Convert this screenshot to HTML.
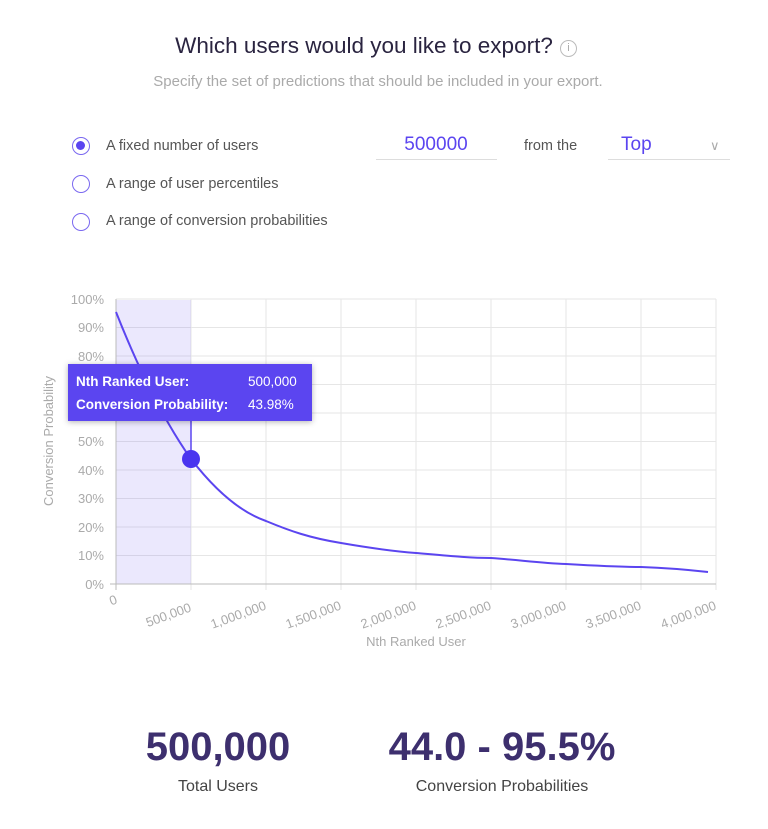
<!DOCTYPE html>
<html><head><style>
body{margin:0;width:768px;height:829px;background:#fff;font-family:"Liberation Sans",sans-serif;position:relative;overflow:hidden}
.a{position:absolute;white-space:nowrap}
.r{position:absolute;width:18px;height:18px;border:1.5px solid #7a68f0;border-radius:50%;box-sizing:border-box}
.lbl{font-size:14.5px;color:#555}
</style></head><body>
<div class="a" style="left:0;width:728px;top:33px;text-align:center;font-size:22.5px;color:#2a2440">Which users would you like to export?</div>
<div class="a" style="left:560px;top:40px;width:15px;height:15px;border:1px solid #bbb;border-radius:50%;font-size:11px;line-height:15px;text-align:center;color:#aaa">i</div>
<div class="a" style="left:0;width:756px;top:73px;text-align:center;font-size:15px;color:#aaa">Specify the set of predictions that should be included in your export.</div>
<div class="r" style="left:72px;top:137px"><div style="position:absolute;left:3px;top:3px;width:9px;height:9px;border-radius:50%;background:#5b45f0"></div></div>
<div class="r" style="left:72px;top:175px"></div>
<div class="r" style="left:72px;top:213px"></div>
<div class="a lbl" style="left:106px;top:138px">A fixed number of users</div>
<div class="a lbl" style="left:106px;top:176px">A range of user percentiles</div>
<div class="a lbl" style="left:106px;top:213px">A range of conversion probabilities</div>
<div class="a" style="left:376px;top:134px;width:120px;text-align:center;font-size:19px;color:#5b45f0">500000</div>
<div class="a" style="left:376px;top:159px;width:121px;height:1px;background:#ddd"></div>
<div class="a lbl" style="left:524px;top:138px">from the</div>
<div class="a" style="left:621px;top:134px;font-size:19px;color:#5b45f0">Top</div>
<div class="a" style="left:710px;top:138px;font-size:13px;color:#aaa">&#8744;</div>
<div class="a" style="left:608px;top:159px;width:122px;height:1px;background:#ddd"></div>

<svg class="a" style="left:0;top:0" width="768" height="829" font-family="Liberation Sans, sans-serif">
<g stroke="#e6e6e6" stroke-width="1">
<line x1="116" y1="299" x2="716" y2="299"/><line x1="116" y1="327.5" x2="716" y2="327.5"/><line x1="116" y1="356" x2="716" y2="356"/><line x1="116" y1="384.5" x2="716" y2="384.5"/><line x1="116" y1="413" x2="716" y2="413"/><line x1="116" y1="441.5" x2="716" y2="441.5"/><line x1="116" y1="470" x2="716" y2="470"/><line x1="116" y1="498.5" x2="716" y2="498.5"/><line x1="116" y1="527" x2="716" y2="527"/><line x1="116" y1="555.5" x2="716" y2="555.5"/>
<line x1="191" y1="299" x2="191" y2="590"/><line x1="266" y1="299" x2="266" y2="590"/><line x1="341" y1="299" x2="341" y2="590"/><line x1="416" y1="299" x2="416" y2="590"/><line x1="491" y1="299" x2="491" y2="590"/><line x1="566" y1="299" x2="566" y2="590"/><line x1="641" y1="299" x2="641" y2="590"/><line x1="716" y1="299" x2="716" y2="590"/>
</g>
<rect x="116" y="300" width="75" height="284" fill="#5b45f0" fill-opacity="0.12"/>
<line x1="116" y1="299" x2="116" y2="590" stroke="#bbb"/>
<line x1="110" y1="584" x2="716" y2="584" stroke="#bbb"/>
<g font-size="13" fill="#aaa" text-anchor="end">
<text x="104" y="304">100%</text><text x="104" y="332">90%</text><text x="104" y="361">80%</text><text x="104" y="389">70%</text><text x="104" y="418">60%</text><text x="104" y="446">50%</text><text x="104" y="475">40%</text><text x="104" y="503">30%</text><text x="104" y="532">20%</text><text x="104" y="560">10%</text><text x="104" y="589">0%</text>
</g>
<g font-size="13" fill="#aaa" text-anchor="end">
<text transform="translate(118,603) rotate(-20)">0</text>
<text transform="translate(192,611) rotate(-20)">500,000</text>
<text transform="translate(267,609) rotate(-20)">1,000,000</text>
<text transform="translate(342,609) rotate(-20)">1,500,000</text>
<text transform="translate(417,609) rotate(-20)">2,000,000</text>
<text transform="translate(492,609) rotate(-20)">2,500,000</text>
<text transform="translate(567,609) rotate(-20)">3,000,000</text>
<text transform="translate(642,609) rotate(-20)">3,500,000</text>
<text transform="translate(717,609) rotate(-20)">4,000,000</text>
</g>
<text x="416" y="646" font-size="13" fill="#aaa" text-anchor="middle">Nth Ranked User</text>
<text transform="translate(53,441) rotate(-90)" font-size="13" fill="#aaa" text-anchor="middle">Conversion Probability</text>
<path d="M116,312 C135,360 160,415 191,459 C215,490 240,512 266,521 C290,531 310,538 341,543 C370,548 390,551 416,553 C450,556 470,558 491,558 C520,560 540,563 566,564 C600,566 620,567 641,567 C670,568 690,570 708,572" fill="none" stroke="#5b45f0" stroke-width="2"/>
<line x1="191" y1="390" x2="191" y2="459" stroke="#5b45f0" stroke-width="1.5"/>
<circle cx="191" cy="459" r="9" fill="#4a35ef"/>
<rect x="68" y="364" width="244" height="57" fill="#5b45f0" style="filter:drop-shadow(0 1px 3px rgba(0,0,0,.3))"/>
<g font-size="13.5" fill="#fff">
<text x="76" y="386" font-weight="bold">Nth Ranked User:</text><text x="248" y="386">500,000</text>
<text x="76" y="409" font-weight="bold">Conversion Probability:</text><text x="248" y="409">43.98%</text>
</g>
</svg>

<div class="a" style="left:108px;width:220px;top:725px;text-align:center;font-size:40px;font-weight:bold;color:#3d2f6e">500,000</div>
<div class="a" style="left:118px;width:200px;top:778px;text-align:center;font-size:16px;color:#444">Total Users</div>
<div class="a" style="left:352px;width:300px;top:725px;text-align:center;font-size:40px;font-weight:bold;color:#3d2f6e">44.0 - 95.5%</div>
<div class="a" style="left:352px;width:300px;top:778px;text-align:center;font-size:16px;color:#444">Conversion Probabilities</div>
</body></html>
